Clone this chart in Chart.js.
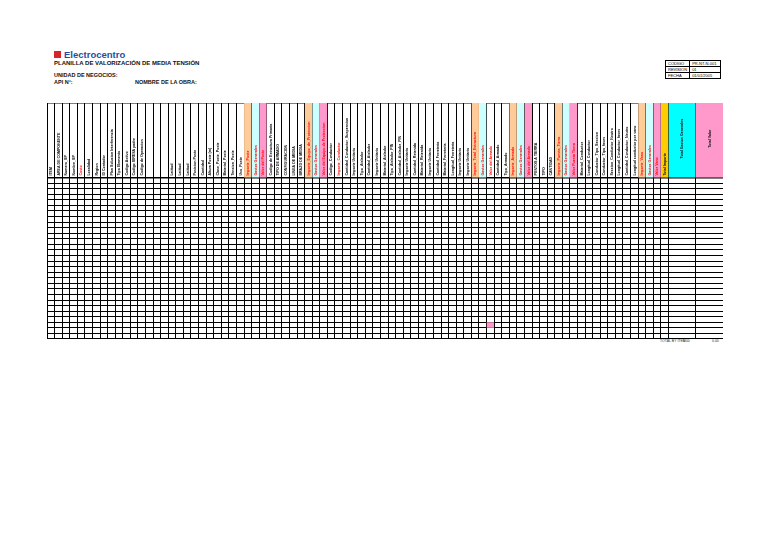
<!DOCTYPE html>
<html>
<head>
<meta charset="utf-8">
<script src="https://cdn.jsdelivr.net/npm/chart.js@4"></script>
<style>
body { margin:0; background:#fff; font-family:"Liberation Sans", Arial, sans-serif; }
.abs { position:absolute; white-space:nowrap; }
#logo { left:54px; top:49px; font-size:9.5px; font-weight:bold; color:#1f4fa0; }
#logo span { display:inline-block; width:7px; height:7px; background:#d6252a; margin-right:3px; }
.t { font-size:5.5px; font-weight:bold; color:#111; }
#info { left:665px; top:60px; border-collapse:collapse; font-size:4px; }
#info td { border:1px solid #000; padding:0 2px; height:5px; }
#wrap { position:absolute; left:47px; top:103px; width:676px; height:236px; }
</style>
</head>
<body>
<div id="logo" class="abs"><span></span>Electrocentro</div>
<div class="abs t" style="left:54px;top:60px;font-size:6px">PLANILLA DE VALORIZACIÓN DE MEDIA TENSIÓN</div>
<div class="abs t" style="left:54px;top:72px">UNIDAD DE NEGOCIOS:</div>
<div class="abs t" style="left:54px;top:79px">API N°:</div>
<div class="abs t" style="left:135px;top:79px">NOMBRE DE LA OBRA:</div>
<table id="info" class="abs">
<tr><td style="width:18px">CODIGO</td><td style="width:26px">PR-NT-N-001</td></tr>
<tr><td>REVISION</td><td>01</td></tr>
<tr><td>FECHA</td><td>01/01/2005</td></tr>
</table>
<div class="abs" style="left:660px;top:339px;font-size:3.5px;color:#333">TOTAL BY ITEM</div>
<div class="abs" style="left:683px;top:339px;font-size:3.5px;color:#333">0.00</div>
<div class="abs" style="left:712px;top:339px;font-size:3.5px;color:#333">0.00</div>
<div id="wrap"><canvas id="grid"></canvas></div>
<script>
// Column headers of the sheet
const colLabels = [
  'ITEM','AREA DE COMPONENTE','Numero_SP','Nombre_SP','Costo','Localidad','Region','ID Contador',
  'Plan Solucion Interferencia','Tipo Elemento','Codigo Activo','Codigo SIRESA padre','Codigo de Operacion',
  '','','','Latitud','Latitud','Latitud','Posicion Poste','Cantidad','Altura Poste (m)','Clase_Poste_Poste',
  'Material_Poste','Tension_Poste','Uso_Poste','Importe_Poste','Gastos Generales','Valor del Poste',
  'Codigo de Estructura Primaria','TIPO DE ARMADO','CONFIGURACION','LINEA DE MEDIA','BRAZO DE MEDIA',
  'Importe_Equipo_de_Proteccion','Gastos Generales','Valor del Equipo de Proteccion',
  'Codigo_Conductor','Importe_Conductor','Cantidad_Conductor_Suspension','Importe Unitario','Tipo_Aislador',
  'Cantidad_Aislador','Importe Unitario','Material_Aislador','Tipo_Aislador_PIN','Cantidad_Aislador_PIN',
  'Importe Unitario','Cantidad_Retenida','Material_Retenida','Importe Unitario','Cantidad_Ferreteria',
  'Material_Ferreteria','Longitud_Ferreteria','Importe Unitario','Importe Unitario','Importe_Total_Estructura',
  'Gastos Generales','Valor del Armado','Cantidad_Armado','Tipo_Armado','Importe_Armado','Gastos Generales',
  'Valor del Armado','PUNTOS A TIERRA','TIPO','CANTIDAD','Importe_Puesta_Tierra','Gastos Generales',
  'Valor Puesta Tierra','Material_Conductor','Longitud_Conductor','Conductor_Tipo_Seccion','Conductor_Tipo_fases',
  'Seccion_Conductor_Neutro','Longitud_Conductor_fases','Cantidad_Conductor_Neutro','Longitud conductor por vano',
  'Importe_Vano','Gastos Generales','Valor Vano','Total Importe','Total Gastos Generales','Total Valor'
];
// header fill per column: o = orange, c = cyan, p = pink, g = gold, w = white
const colFills = (
  'wwwwwwwwwwwwwwwwwwwwwwwwww' + 'ocp' + 'wwwww' + 'ocp' + 'wwwwwwwwwwwwwwwwwww' +
  'ocwwwocp' + 'www' + 'ocp' + 'wwwwwwww' + 'ocpg' + 'cp'
).split('');
// red header text columns
const redText = [4,26,27,28,34,35,36,38,56,57,58,61,62,63,67,68,69,78,79,80];
const rowCount = 29;
const pinkCell = { col: 58, row: 2 };

const fillColors = { o:'#ffcc99', c:'#ccffff', p:'#ff99cc', g:'#ffcc00', w:null };
const wideFill = { c:'#00ffff', p:'#ff99cc' };
const colSpan = colLabels.map((_, i) => i >= colLabels.length - 2 ? 3.6 : 1);
const headerUnits = 13.4;

const bounds = [0];
colSpan.forEach(s => bounds.push(bounds[bounds.length - 1] + s));
const topY = rowCount + headerUnits;

const datasets = [];
colFills.forEach((f, i) => {
  if (f === 'w') return;
  const color = i >= colLabels.length - 2 ? wideFill[f] : fillColors[f];
  datasets.push({
    data: [{ x: bounds[i], y: topY }, { x: bounds[i + 1], y: topY }],
    borderWidth: 0, pointRadius: 0, backgroundColor: color, fill: { value: rowCount }
  });
});
datasets.push({
  data: [{ x: bounds[pinkCell.col], y: pinkCell.row + 1 }, { x: bounds[pinkCell.col + 1], y: pinkCell.row + 1 }],
  borderWidth: 0, pointRadius: 0, backgroundColor: '#ff99cc', fill: { value: pinkCell.row }
});

const headerText = {
  id: 'headerText',
  afterDatasetsDraw(chart) {
    const { ctx, scales } = chart;
    const yb = scales.y.getPixelForValue(rowCount) - 2;
    colLabels.forEach((lab, i) => {
      const xc = scales.x.getPixelForValue((bounds[i] + bounds[i + 1]) / 2);
      const wide = i >= colLabels.length - 2;
      ctx.save();
      ctx.translate(xc + 1.3, wide ? yb - 37 : yb);
      ctx.rotate(-Math.PI / 2);
      ctx.font = 'bold 3.6px "Liberation Sans"';
      ctx.fillStyle = redText.includes(i) ? '#ff0000' : '#000';
      ctx.textAlign = wide ? 'center' : 'left';
      ctx.fillText(lab, 0, 0);
      ctx.restore();
    });
  }
};

new Chart(document.getElementById('grid'), {
  type: 'line',
  data: { datasets },
  options: {
    responsive: true, maintainAspectRatio: false, animation: false,
    layout: { padding: 0 },
    plugins: { legend: { display: false }, tooltip: { enabled: false } },
    scales: {
      x: {
        type: 'linear', min: 0, max: bounds[bounds.length - 1],
        afterBuildTicks: s => { s.ticks = bounds.map(v => ({ value: v })); },
        ticks: { display: false },
        grid: { color: '#000', lineWidth: 1, drawTicks: false },
        border: { color: '#000', width: 1.5 }
      },
      y: {
        type: 'linear', min: 0, max: topY,
        afterBuildTicks: s => {
          const t = [];
          for (let r = 0; r <= rowCount; r++) t.push({ value: r });
          t.push({ value: topY });
          s.ticks = t;
        },
        ticks: { display: false },
        grid: { color: '#000', lineWidth: c => (c.tick.value === rowCount || c.tick.value === topY) ? 1.5 : 1, drawTicks: false },
        border: { color: '#000', width: 1.5 }
      }
    }
  },
  plugins: [headerText]
});
</script>
</body>
</html>
